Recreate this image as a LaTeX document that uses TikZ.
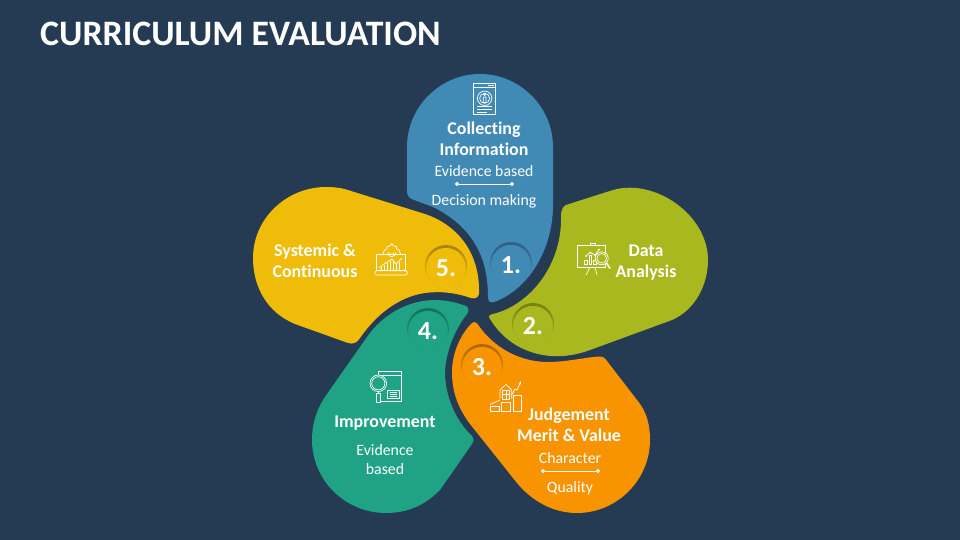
\documentclass[tikz,border=0pt]{standalone}
\usepackage{fontspec}
\setmainfont{Carlito}[Ligatures=NoCommon]
\usetikzlibrary{arrows.meta,fadings}
\definecolor{slidebg}{RGB}{37,58,83}
\definecolor{petalblue}{RGB}{66,138,182}
\definecolor{petalolive}{RGB}{170,184,32}
\definecolor{petalorange}{RGB}{247,148,0}
\definecolor{petalteal}{RGB}{31,163,132}
\definecolor{petalyellow}{RGB}{240,188,10}
\tikzset{
  headtxt/.style={text=white,align=center,font=\fontsize{17.9}{21}\selectfont\bfseries,inner sep=0pt},
  subtxt/.style={text=white,align=center,font=\fontsize{15.8}{19.5}\selectfont,inner sep=0pt},
  numtxt/.style={text=white,font=\fontsize{26}{26}\selectfont\bfseries,inner sep=0pt},
  rule line/.style={white,line width=0.8pt,{Circle[length=4pt]}-{Circle[length=4pt]}},
  icon/.style={white,line width=0.7pt,line join=round}
}
\begin{document}
\begin{tikzpicture}[x=1pt,y=-1pt]
  \useasboundingbox (0,0) rectangle (960,540);
  \fill[slidebg] (0,0) rectangle (960,540);
  \node[text=white,anchor=west,inner sep=0pt,font=\fontsize{35.8}{36}\selectfont\bfseries] (title) at (40,34) {CURRICULUM EVALUATION};

  % petals
  \fill[petalblue] (407,147) .. controls (407,107) and (440,74) .. (480,74)
    .. controls (520,74) and (553,107) .. (553,147) -- (553,205)
    .. controls (553,250) and (528,290) .. (494,302)
    .. controls (490,303.5) and (488,301) .. (488,297)
    .. controls (488,260) and (475,228) .. (433,207) -- (414,200)
    .. controls (409,198) and (407,196) .. (407,191) -- cycle;
  \fill[petalolive] (490,319) .. controls (488,316) and (489,315) .. (493,314)
    .. controls (530,305) and (562,265) .. (561,217)
    .. controls (561,209) and (563,205) .. (569,204) -- (613,190)
    .. controls (655,178) and (708,215) .. (708,260)
    .. controls (708,285) and (695,310) .. (672,320) -- (590,350)
    .. controls (550,365) and (510,352) .. (490,319) -- cycle;
  \fill[petalorange] (479,326) .. controls (493,346) and (518,362) .. (548,362)
    .. controls (565,362) and (582,358) .. (598,356.5)
    .. controls (603,356) and (605,358) .. (607,361) -- (637,400)
    .. controls (647,412) and (650,425) .. (650,440)
    .. controls (650,480) and (617,513) .. (577,513)
    .. controls (552,513) and (531,500) .. (517,483) -- (470,424)
    .. controls (458,408) and (452,392) .. (452,372)
    .. controls (452,355) and (459,337) .. (470,325)
    .. controls (473,321) and (476,321) .. (479,326) -- cycle;
  \fill[petalteal] (467,314) .. controls (456,328) and (446,350) .. (445,372)
    .. controls (445,395) and (455,420) .. (472,436)
    .. controls (474,439) and (474,441) .. (472,444) -- (440,490)
    .. controls (425,505) and (408,513) .. (386,513)
    .. controls (345,513) and (312,480) .. (312,440)
    .. controls (312,423) and (317,408) .. (327,394) -- (367,337)
    .. controls (382,315) and (408,300) .. (435,300)
    .. controls (445,300) and (455,302) .. (466,306)
    .. controls (469,307) and (469,312) .. (467,314) -- cycle;
  \fill[petalyellow] (479,290) .. controls (480,297) and (476,299.5) .. (471,298)
    .. controls (455,292.5) and (440,291) .. (425,293)
    .. controls (398,297) and (376,315) .. (360,338)
    .. controls (357,343) and (353,344.5) .. (348,343) -- (295,324)
    .. controls (268,313) and (253,288) .. (253,258)
    .. controls (253,218) and (287,187) .. (326,187)
    .. controls (335,187) and (343,188) .. (351,191) -- (425,214)
    .. controls (455,224) and (479,250) .. (479,290) -- cycle;

  % numbered rings
  \foreach \n/\rx/\ry in {1/511/263,2/533/324,3/482/365,4/428/329,5/446/266}{
    \coordinate (ring\n) at (\rx,\ry);
    \fill[black,fill opacity=.3,even odd rule,path fading=south] (ring\n) circle[radius=21] ([yshift=-1.8pt]ring\n) circle[radius=20];
    \node[numtxt] (num\n) at ([yshift=-2.5pt]ring\n) {\n.};
  }

  % petal texts
  \node[headtxt] (collect) at (484,139) {Collecting\\Information};
  \node[subtxt] (evid) at (484,171) {Evidence based};
  \coordinate (evidl) at (455,184);
  \coordinate (evidr) at (514,184);
  \draw[rule line] (evidl) -- (evidr);
  \node[subtxt] (decis) at (484,201) {Decision making};
  \node[headtxt] (data) at (646,263) {Data\\Analysis};
  \node[headtxt] (judge) at (569,425) {Judgement\\Merit \& Value};
  \node[subtxt] (charac) at (570,458) {Character};
  \coordinate (charl) at (541,471);
  \coordinate (charr) at (600,471);
  \draw[rule line] (charl) -- (charr);
  \node[subtxt] (qual) at (570,488) {Quality};
  \node[headtxt] (improve) at (385,423) {Improvement};
  \node[subtxt] (evbased) at (385,459.5) {Evidence\\based};
  \node[headtxt] (system) at (315,261) {Systemic \&\\Continuous};

  % icon 1, info page
  \draw[icon] (473.5,83.5) rectangle (495.5,114.5);
  \draw[icon] (473.5,87) -- (495.5,87);
  \draw[icon] (488,85.2) -- (494,85.2);
  \draw[icon] (484.6,98.3) circle[radius=7.2] (484.6,98.3) circle[radius=5];
  \draw[icon] (483.2,97) rectangle (486,102.5) (484.6,94.6) circle[radius=1];
  \draw[icon] (477,106.5) -- (492,106.5) (477,109.2) -- (492,109.2) (477,112) -- (487,112);

  % icon 2, chart board
  \draw[icon] (577.5,245) rectangle (605.5,267.3);
  \draw[icon] (590,245) -- (590,243) -- (595,243) -- (595,245);
  \draw[icon] (590,267.3) -- (586,275) (595,267.3) -- (597,275);
  \draw[icon] (584.5,260) rectangle (587,264.5) (589,255.5) rectangle (591.5,264.5) (593.5,260) rectangle (596,264.5);
  \draw[icon] (586,256) -- (590,252.5) -- (595,255) -- (599,249.5);
  \fill[white] (586,256) circle[radius=1] (590,252.5) circle[radius=1] (595,255) circle[radius=1] (599,249.5) circle[radius=1];
  \draw[icon,fill=petalolive] (601.7,258.3) circle[radius=6.5];
  \draw[icon] (601.7,258.3) circle[radius=4.8];
  \draw[white,line width=1.5pt] (606.5,263) -- (610,268.5);

  % icon 3, house on bars
  \draw[icon] (490,406) rectangle (499,411.7) (501.3,402.7) rectangle (510.7,411.7) (513.3,395) rectangle (521.7,411.7);
  \draw[icon] (490,404.5) -- (500,400);
  \draw[icon] (500,398.5) -- (500,390) -- (506,384.3) -- (511.7,390) -- (511.7,398.5);
  \draw[icon] (502.7,390) rectangle (509.3,399) (506,390) -- (506,399) (502.7,394.5) -- (509.3,394.5);
  \draw[icon,-{Stealth[length=3.5pt,open]}] (511.7,395) -- (515,389) -- (517,390) -- (521,381);

  % icon 4, lens and page
  \draw[icon] (378.5,371) rectangle (401.7,401.7);
  \draw[icon] (378.5,375) -- (401.7,375);
  \draw[icon,fill=petalteal] (378.3,383.3) circle[radius=8.3];
  \draw[icon] (378.3,383.3) circle[radius=6.6];
  \draw[icon,fill=petalteal] (376,393) rectangle (380.7,402.3);
  \draw[icon] (387.3,390) rectangle (399,398.7);
  \draw[icon] (389.5,392.2) -- (397,392.2) (389.5,394.4) -- (397,394.4) (389.5,396.6) -- (397,396.6);

  % icon 5, laptop and gear
  \draw[icon] (376.7,254) rectangle (405,270.7);
  \draw[icon,rounded corners=1.5pt] (375,270.7) -- (407.3,270.7) -- (407.3,275) -- (375,275) -- cycle;
  \draw[icon] (383,254) -- (384.5,250) -- (387,249) -- (387,246.5) -- (390,246) -- (391.7,243.5) -- (393.5,246) -- (396.5,246.5) -- (396.5,249) -- (399,250) -- (400.5,254);
  \draw[icon] (387.5,252.5) arc[start angle=180,end angle=0,radius=4.2];
  \draw[icon] (389.5,252.5) arc[start angle=180,end angle=0,radius=2.2];
  \draw[icon] (379,268) -- (384,264) -- (389,261) -- (392,259) -- (396,264) -- (402,258);
  \foreach \xb/\yb in {381/267,384/264.5,387/262.5,390/260.5,393/261,396/264,399/261.5}{
    \draw[white,line width=.5pt] (\xb,\yb) -- (\xb,269.5);
  }
\end{tikzpicture}
\end{document}
